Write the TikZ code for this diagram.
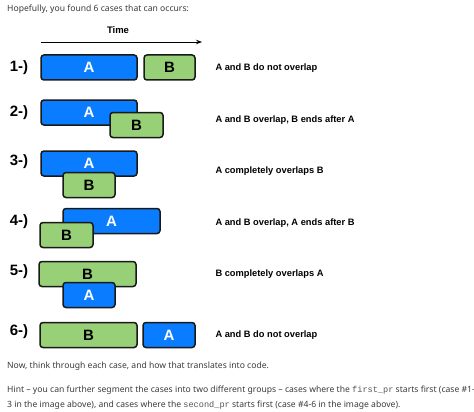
\documentclass[tikz,border=0pt]{standalone}
\usepackage{fontspec}
\setmainfont{Noto Sans}
\newfontfamily\diagfont{Liberation Sans}
\setmonofont{Liberation Mono}
\usetikzlibrary{arrows.meta,positioning}
\definecolor{barblue}{HTML}{0A7CFF}
\definecolor{bargreen}{HTML}{97D077}
\definecolor{bodygray}{HTML}{3A3A3A}
\definecolor{codegray}{HTML}{555555}
\tikzset{
  bar/.style={draw=black!90,line width=1.5pt,rounded corners=3pt,minimum height=25pt,inner sep=0pt,font=\diagfont\bfseries\fontsize{15}{15}\selectfont},
  barA/.style={bar,fill=barblue,text=white},
  barB/.style={bar,fill=bargreen,text=black},
  caselbl/.style={font=\diagfont\bfseries\fontsize{15}{15}\selectfont},
  desc/.style={anchor=west,font=\diagfont\fontsize{9.3}{10}\selectfont\bfseries},
  para/.style={anchor=west,inner sep=0pt,text=bodygray,font=\fontsize{8.6}{10}\selectfont}
}
\newcommand{\code}[1]{{\ttfamily\color{codegray}#1}}
\begin{document}
\begin{tikzpicture}[x=1pt,y=-1pt]
  \useasboundingbox (0,0) rectangle (474,412);
  \node[para] (intro) at (7,9) {Hopefully, you found 6 cases that can occurs:};
  % time axis
  \coordinate (t0) at (41,42);
  \coordinate (t1) at (202,42);
  \draw[-{Stealth[length=6pt]},line width=0.9pt] (t0) -- (t1);
  \node[font=\diagfont\bfseries\fontsize{9.5}{10}\selectfont] (time) at (118,30) {Time};
  % case 1
  \node[caselbl] (c1) at (19,68) {1-)};
  \node[barA,minimum width=96pt] (a1) at (89,67.5) {A};
  \node[barB,minimum width=51pt] (b1) at (169.5,67.5) {B};
  \node[desc] (d1) at (212,68) {A and B do not overlap};
  % case 2
  \node[caselbl] (c2) at (19,113) {2-)};
  \node[barA,minimum width=96pt] (a2) at (89,112.5) {A};
  \node[barB,minimum width=53pt] (b2) at (136.5,125) {B};
  \node[desc] (d2) at (212,120) {A and B overlap, B ends after A};
  % case 3
  \node[caselbl] (c3) at (19,162) {3-)};
  \node[barA,minimum width=96pt] (a3) at (89,163.5) {A};
  \node[barB,minimum width=52pt] (b3) at (89,185) {B};
  \node[desc] (d3) at (212,171) {A completely overlaps B};
  % case 4
  \node[caselbl] (c4) at (19,222) {4-)};
  \node[barA,minimum width=97pt] (a4) at (111.5,221) {A};
  \node[barB,minimum width=53pt] (b4) at (66.5,235) {B};
  \node[desc] (d4) at (212,223) {A and B overlap, A ends after B};
  % case 5
  \node[caselbl] (c5) at (19,272) {5-)};
  \node[barB,minimum width=97pt] (b5) at (87.5,274) {B};
  \node[barA,minimum width=52pt] (a5) at (89,295) {A};
  \node[desc] (d5) at (212,274) {B completely overlaps A};
  % case 6
  \node[caselbl] (c6) at (19,332) {6-)};
  \node[barB,minimum width=97pt] (b6) at (88.5,335) {B};
  \node[barA,minimum width=52pt] (a6) at (169,335) {A};
  \node[desc] (d6) at (212,335) {A and B do not overlap};
  % text below
  \node[para] (now) at (7,366) {Now, think through each case, and how that translates into code.};
  \node[para] (hint1) at (7,390) {Hint -- you can further segment the cases into two different groups -- cases where the \code{first\_pr} starts first (case \#1-};
  \node[para] (hint2) at (7,405) {3 in the image above), and cases where the \code{second\_pr} starts first (case \#4-6 in the image above).};
\end{tikzpicture}
\end{document}
